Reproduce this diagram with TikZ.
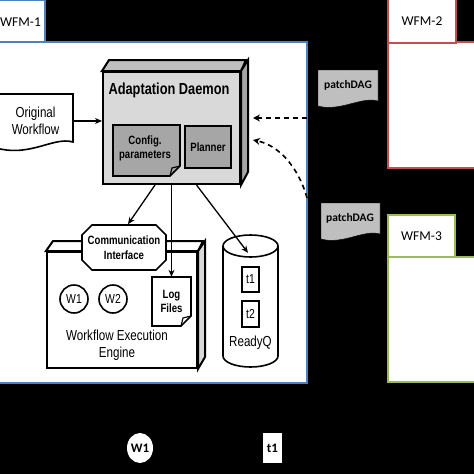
\documentclass[tikz,border=0pt]{standalone}
\usepackage{fontspec}
\setmainfont{Liberation Sans}[FakeStretch=0.8]
\newfontfamily\calfont{Carlito}
\usetikzlibrary{arrows.meta,shapes.misc,shapes.geometric}
\definecolor{wfmblue}{HTML}{4F81BD}
\definecolor{wfmred}{HTML}{C0504D}
\definecolor{wfmgreen}{HTML}{9BBB59}
\definecolor{lgray}{HTML}{D9D9D9}
\definecolor{mgray}{HTML}{BFBFBF}
\definecolor{dgray}{HTML}{A6A6A6}
\begin{document}
\begin{tikzpicture}[x=1pt,y=-1pt,
	tab/.style={draw, fill=white, line width=1.6pt, inner sep=0pt,
		font=\calfont\fontsize{13.5}{15}\selectfont},
	frame/.style={draw, fill=white, line width=1.6pt},
	box3d/.style={draw, line width=2pt, inner sep=0pt},
	txt/.style={inner sep=0pt, align=center},
	bold/.style={txt, font=\bfseries\fontsize{12}{14}\selectfont},
	plain/.style={txt, font=\fontsize{14.5}{17}\selectfont},
	token/.style={draw, line width=1.6pt, fill=white, inner sep=0pt,
		font=\fontsize{13}{14}\selectfont},
	arr/.style={-{Stealth[length=7pt,width=6pt]}, line width=1.3pt},
	darr/.style={-{Stealth[length=7pt,width=7pt]}, line width=1.6pt, dashed,
		dash pattern=on 5pt off 4pt},
	legend/.style={fill=white, inner sep=0pt, font=\calfont\bfseries\fontsize{13}{14}\selectfont}]
	
	\useasboundingbox[fill=black] (0,0) rectangle (474,474);
	
	% three workflow managers
	\draw[frame, draw=wfmblue] (-10,42) rectangle (307,383);
	\node[tab, draw=wfmblue, minimum width=60pt, minimum height=42pt] (wfm1) at (15,21) {};
	\node[txt, font=\calfont\fontsize{13.5}{15}\selectfont] (wfm1t) at (20.5,22) {WFM-1};
	\draw[frame, draw=wfmred] (388,42) rectangle (484,168);
	\node[tab, draw=wfmred, minimum width=68pt, minimum height=44pt] (wfm2) at (422,21) {WFM-2};
	\draw[frame, draw=wfmgreen] (388,257) rectangle (484,382);
	\node[tab, draw=wfmgreen, minimum width=67pt, minimum height=42pt] (wfm3) at (421.5,236) {WFM-3};
	
	% patches
	\draw[fill=mgray] (318,70) -- (378,70) -- (378,101)
		.. controls (362,96) and (340,112) .. (318,106) -- cycle;
	\node[legend, fill=none, font=\calfont\bfseries\fontsize{11.5}{14}\selectfont] (pd1) at (348,85) {patchDAG};
	\draw[fill=mgray] (321,203) -- (380,203) -- (380,234)
		.. controls (364,229) and (343,245) .. (321,239) -- cycle;
	\node[legend, fill=none, font=\calfont\bfseries\fontsize{11.5}{14}\selectfont] (pd2) at (350,218) {patchDAG};
	
	% original workflow
	\draw[line width=1.6pt, fill=white] (-10,94) -- (73,94) -- (73,142)
		.. controls (52,136) and (28,160) .. (-10,146);
	\node[plain, minimum width=75pt] (orig) at (35.5,121) {Original\\Workflow};
	
	% adaptation daemon
	\node[box3d, fill=lgray, minimum width=137pt, minimum height=112pt] (daemon) at (171.5,128) {};
	\draw[line width=2pt, fill=mgray] (daemon.north west) -- ++(7,-11) -- ++(137,0) -- (daemon.north east) -- cycle;
	\draw[line width=2pt, fill=dgray] (daemon.north east) -- ++(7,-11) -- ++(0,112) -- (daemon.south east) -- cycle;
	\node[txt, font=\bfseries\fontsize{16}{18}\selectfont] (dtitle) at (169,90) {Adaptation Daemon};
	\draw[line width=1.6pt, fill=dgray] (113,125) -- (180,125) -- (180,166) -- (170,176) -- (113,176) -- cycle;
	\draw[line width=1.2pt] (170,176) -- (172,168) -- (180,166);
	\node[bold] (cfg) at (145,148) {Config.\\parameters};
	\node[draw, line width=1.6pt, fill=dgray, minimum width=46pt, minimum height=42pt,
		inner sep=0pt, font=\bfseries\fontsize{12}{14}\selectfont] (plan) at (208,147) {Planner};
	
	% workflow execution engine
	\node[box3d, fill=white, minimum width=150pt, minimum height=116pt] (wee) at (122,310) {};
	\draw[line width=2pt, fill=white] (wee.north west) -- ++(7,-10) -- ++(150,0) -- (wee.north east) -- cycle;
	\draw[line width=2pt, fill=lgray] (wee.north east) -- ++(7,-10) -- ++(0,116) -- (wee.south east) -- cycle;
	\node[chamfered rectangle, chamfered rectangle xsep=5pt, chamfered rectangle ysep=5pt,
		draw, line width=1.6pt, fill=white, minimum width=84pt, minimum height=45pt, inner sep=0pt,
		align=center, font=\bfseries\fontsize{12}{15}\selectfont] (comm) at (124,247.5) {Communication\\Interface};
	\node[token, circle, minimum size=28pt] (w1) at (74,299) {W1};
	\node[token, circle, minimum size=28pt] (w2) at (113,299) {W2};
	\draw[line width=1.6pt, fill=white] (152,277) -- (191,277) -- (191,316) -- (181,326) -- (152,326) -- cycle;
	\draw[line width=1.2pt] (181,326) -- (183,318) -- (191,316);
	\node[bold, minimum width=39pt, minimum height=49pt] (log) at (171.5,301.5) {Log\\Files};
	\node[plain] (weet) at (117,345) {Workflow Execution\\Engine};
	
	% ready queue
	\draw[line width=1.6pt, fill=white] (223,246) -- (223,356) arc[start angle=180, end angle=0, x radius=27.5, y radius=11]
		-- (278,246) arc[start angle=0, end angle=-180, x radius=27.5, y radius=11] -- cycle;
	\draw[line width=1.6pt] (223,246) arc[start angle=180, end angle=0, x radius=27.5, y radius=11];
	\node[inner sep=0pt, minimum width=55pt, minimum height=132pt] (rq) at (250.5,301) {};
	\node[token, minimum width=17pt, minimum height=25pt] (t1) at (250.5,279.5) {t1};
	\node[token, minimum width=17pt, minimum height=26pt] (t2) at (250.5,314) {t2};
	\node[plain] (rqt) at (250.5,343) {ReadyQ};
	
	% connectors
	\draw[arr] (orig.east) -- (orig.east -| daemon.west);
	\draw[arr] ([xshift=-16.5pt]daemon.south) -- ([xshift=4pt]comm.north);
	\draw[arr] (daemon.south) -- (log.north);
	\draw[arr] ([xshift=25pt]daemon.south) -- ([xshift=-2.5pt,yshift=-18pt]rq.north);
	\coordinate (in1) at (307,118);
	\coordinate (in2) at (307,198);
	\draw[darr] (in1) -- ([xshift=12pt]daemon.east |- in1);
	\draw[darr] (in2) .. controls (300,172) and (282,146) .. ([xshift=12pt,yshift=-12pt]daemon.east);
	
	% legend
	\node[legend, ellipse, minimum width=22pt, minimum height=30pt] (lw) at (140,448) {W1};
	\node[legend, minimum width=19pt, minimum height=30pt] (lt) at (272.5,448) {t1};
\end{tikzpicture}
\end{document}
